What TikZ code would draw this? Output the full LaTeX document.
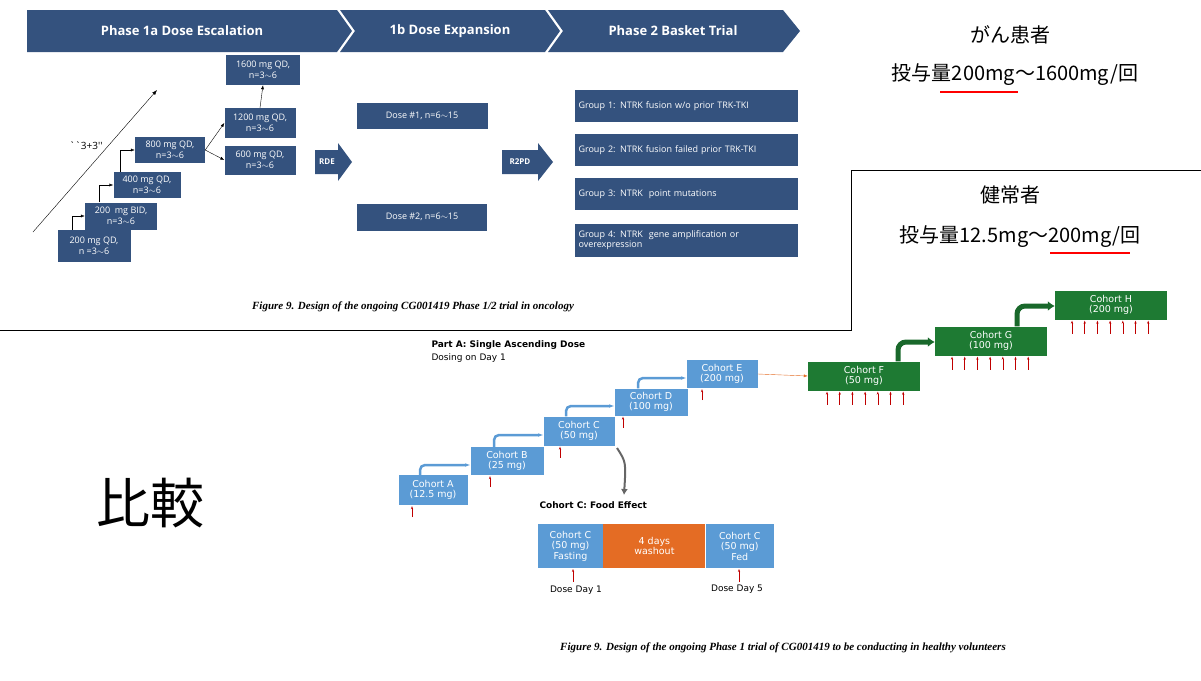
\documentclass[tikz,border=0pt]{standalone}
\usepackage{fontspec}
\setmainfont{Liberation Serif}
\setsansfont{DejaVu Sans}
\newfontfamily\cjk{Noto Sans CJK JP}
\newfontfamily\narrowsf{Open Sans}
\usetikzlibrary{positioning,arrows.meta}
\definecolor{navy}{RGB}{52,82,126}
\definecolor{skyb}{RGB}{91,155,213}
\definecolor{leaf}{RGB}{30,122,51}
\definecolor{rust}{RGB}{228,108,36}
\definecolor{redarr}{RGB}{192,0,0}
\tikzset{
  dbox/.style={fill=navy,text=white,font=\narrowsf\fontsize{9}{10.5}\selectfont,align=center,inner sep=0pt},
  cbox/.style={fill=skyb,text=white,font=\sffamily\fontsize{9.5}{10.5}\selectfont,align=center,inner sep=0pt},
  gbox/.style={fill=leaf,text=white,font=\sffamily\fontsize{9.5}{10.5}\selectfont,align=center,inner sep=0pt},
  step/.style={-{Latex[length=4pt]},thick},
  up/.style={redarr,-{Stealth[length=3pt]},semithick},
  jp/.style={font=\cjk\fontsize{20}{22}\selectfont}
}
\begin{document}
\begin{tikzpicture}[x=1pt,y=-1pt]
  \useasboundingbox (0,0) rectangle (1201,680);
  %Banner
  \fill[navy] (27,10) -- (337,10) -- (352,31) -- (337,52) -- (27,52) -- cycle;
  \fill[navy] (340,10) -- (545,10) -- (560,31) -- (545,52) -- (340,52) -- (355,31) -- cycle;
  \fill[navy] (548,10) -- (783,10) -- (800,31) -- (783,52) -- (548,52) -- (563,31) -- cycle;
  \node[text=white,font=\narrowsf\bfseries\fontsize{13}{14}\selectfont] at (182,31) {Phase 1a Dose Escalation};
  \node[text=white,font=\narrowsf\bfseries\fontsize{13}{14}\selectfont] at (450,31) {1b Dose Expansion};
  \node[text=white,font=\narrowsf\bfseries\fontsize{13}{14}\selectfont] at (673,31) {Phase 2 Basket Trial};

  %Dose escalation
  \node[dbox,minimum width=73,minimum height=32] (qd200) at (94,246) {200 mg QD,\\n =3$\sim$6};
  \node[dbox,minimum width=72,minimum height=27] (bid200) at (121,216) {200\ \ mg BID,\\n=3$\sim$6};
  \node[dbox,minimum width=67,minimum height=26] (qd400) at (147,185) {400 mg QD,\\n=3$\sim$6};
  \node[dbox,minimum width=70,minimum height=26] (qd800) at (170,150) {800 mg QD,\\n=3$\sim$6};
  \node[dbox,minimum width=71,minimum height=30] (qd1200) at (260,123) {1200 mg QD,\\n=3$\sim$6};
  \node[dbox,minimum width=71,minimum height=29] (qd600) at (260,160) {600 mg QD,\\n=3$\sim$6};
  \node[dbox,minimum width=74,minimum height=30] (qd1600) at (263,70) {1600 mg QD,\\n=3$\sim$6};
  \draw[-{Latex[length=4pt]}] ([xshift=-22]qd200.north) |- (bid200.west);
  \draw[-{Latex[length=4pt]}] ([xshift=-22]bid200.north) |- (qd400.west);
  \draw[-{Latex[length=4pt]}] ([xshift=-27]qd400.north) |- (qd800.west);
  \draw[-{Latex[length=4pt]}] (qd800.east) -- (qd1200.west);
  \draw[-{Latex[length=4pt]}] (qd800.east) -- (qd600.west);
  \draw[-{Latex[length=4pt]}] (qd1200.north) -- (qd1600.south);
  \coordinate (diagA) at (33,232);
  \coordinate (diagB) at (157,90);
  \draw[-{Latex[length=5pt]}] (diagA) -- (diagB);
  \node[font=\narrowsf\fontsize{10}{11}\selectfont] at (86,146) {``3+3''};

  %Expansion
  \fill[navy] (315,150) -- (338,150) -- (338,143) -- (352,162) -- (338,181) -- (338,174) -- (315,174) -- cycle;
  \node[text=white,font=\narrowsf\bfseries\fontsize{8}{9}\selectfont] at (327,162) {RDE};
  \node[dbox,minimum width=131,minimum height=26] (dose1) at (422,116) {Dose \#1, n=6$\sim$15};
  \node[dbox,minimum width=130,minimum height=27] (dose2) at (422,217) {Dose \#2, n=6$\sim$15};
  \fill[navy] (502,150) -- (538,150) -- (538,143) -- (553,162) -- (538,181) -- (538,174) -- (502,174) -- cycle;
  \node[text=white,font=\narrowsf\bfseries\fontsize{8}{9}\selectfont] at (520,162) {R2PD};

  %Basket
  \node[dbox,minimum width=223,minimum height=32,text width=215,align=left] (grp1) at (686,106) {Group 1: NTRK fusion w/o prior TRK-TKI};
  \node[dbox,minimum width=223,minimum height=32,text width=215,align=left] (grp2) at (686,150) {Group 2: NTRK fusion failed prior TRK-TKI};
  \node[dbox,minimum width=223,minimum height=32,text width=215,align=left] (grp3) at (686,194) {Group 3: NTRK\ \ point mutations};
  \node[dbox,minimum width=223,minimum height=33,text width=215,align=left] (grp4) at (686,240) {Group 4: NTRK\ \ gene amplification or\\overexpression};
  \node[font=\bfseries\itshape\fontsize{11}{12}\selectfont] at (413,307) {Figure 9. Design of the ongoing CG001419 Phase 1/2 trial in oncology};

  %Japanese notes and frame
  \node[jp] at (1010,35) {がん患者};
  \node[jp] (dose1jp) at (1015,75) {投与量200mg〜1600mg/回};
  \draw[red,line width=1.5pt] (940,92) -- (1018,92);
  \node[jp] at (1010,195) {健常者};
  \node[jp] at (1020,237) {投与量12.5mg〜200mg/回};
  \draw[red,line width=1.5pt] (1050,253) -- (1130,253);
  \draw[thick] (0,330) -- (851,330) -- (851,170) -- (1201,170);
  \node[font=\cjk\fontsize{54}{60}\selectfont] at (150,503) {比較};

  %Part A
  \node[anchor=west,font=\sffamily\bfseries\fontsize{9}{10}\selectfont] at (428,345) {Part A: Single Ascending Dose};
  \node[anchor=west,font=\sffamily\fontsize{9}{10}\selectfont] at (428,358) {Dosing on Day 1};
  \node[cbox,minimum width=69,minimum height=30] (cohA) at (433,490) {Cohort A\\(12.5 mg)};
  \node[cbox,minimum width=73,minimum height=28] (cohB) at (507,461) {Cohort B\\(25 mg)};
  \node[cbox,minimum width=71,minimum height=29] (cohC) at (579,431) {Cohort C\\(50 mg)};
  \node[cbox,minimum width=73,minimum height=27] (cohD) at (651,402) {Cohort D\\(100 mg)};
  \node[cbox,minimum width=71,minimum height=28] (cohE) at (722,374) {Cohort E\\(200 mg)};
  \node[gbox,minimum width=112,minimum height=29] (cohF) at (864,376) {Cohort F\\(50 mg)};
  \node[gbox,minimum width=112,minimum height=29] (cohG) at (991,341) {Cohort G\\(100 mg)};
  \node[gbox,minimum width=112,minimum height=29] (cohH) at (1111,305) {Cohort H\\(200 mg)};
  \foreach \a/\b in {cohA/cohB,cohB/cohC,cohC/cohD,cohD/cohE}
    \draw[skyb,line width=2.5pt,-{Latex[length=5pt]},rounded corners=5pt] ([xshift=-13]\a.north) |- ([yshift=-4]\b.west);
  \draw[leaf!85!black,line width=5pt,-{Latex[length=7pt,width=10pt]},rounded corners=8pt] ([xshift=34]cohF.north) |- ([yshift=-1]cohG.west);
  \draw[leaf!85!black,line width=5pt,-{Latex[length=7pt,width=10pt]},rounded corners=8pt] ([xshift=26]cohG.north) |- ([yshift=-1]cohH.west);
  \draw[rust,-{Latex[length=4pt]}] (cohE.east) -- (cohF.west);
  \foreach \n/\x in {cohA/412,cohB/490,cohC/560,cohD/623,cohE/702}
    \draw[up] ([yshift=-12]\x,0 |- \n.south) -- ([yshift=-1]\x,0 |- \n.south);
  \foreach \n/\s in {cohF/827,cohG/952,cohH/1072}
    \foreach \i in {0,...,6}
      \draw[up] ([yshift=-14]\s+12.7*\i,0 |- \n.south) -- ([yshift=-1]\s+12.7*\i,0 |- \n.south);
  \coordinate (grA) at (617,448);
  \coordinate (grB) at (624,495);
  \draw[gray!80!black,line width=2pt,-{Latex[length=6pt,width=7pt]}] (grA) .. controls (626,462) .. (grB);

  %Food effect
  \node[anchor=west,font=\sffamily\bfseries\fontsize{9}{10}\selectfont] at (536,505) {Cohort C: Food Effect};
  \node[cbox,minimum width=65,minimum height=44] (fast) at (570.5,546) {Cohort C\\(50 mg)\\Fasting};
  \node[fill=rust,text=white,font=\sffamily\fontsize{9.5}{10.5}\selectfont,align=center,minimum width=102,minimum height=44,inner sep=0pt,right=0pt of fast] (wash) {4 days\\washout};
  \node[cbox,minimum width=68,minimum height=44,right=0pt of wash] (fed) {Cohort C\\(50 mg)\\Fed};
  \draw[up] (573,582) -- (573,569);
  \draw[up] (739,582) -- (739,569);
  \node[font=\sffamily\fontsize{9}{10}\selectfont] at (576,590) {Dose Day 1};
  \node[font=\sffamily\fontsize{9}{10}\selectfont] at (737,589) {Dose Day 5};
  \node[font=\bfseries\itshape\fontsize{11}{12}\selectfont] at (783,648) {Figure 9. Design of the ongoing Phase 1 trial of CG001419 to be conducting in healthy volunteers};
\end{tikzpicture}
\end{document}
